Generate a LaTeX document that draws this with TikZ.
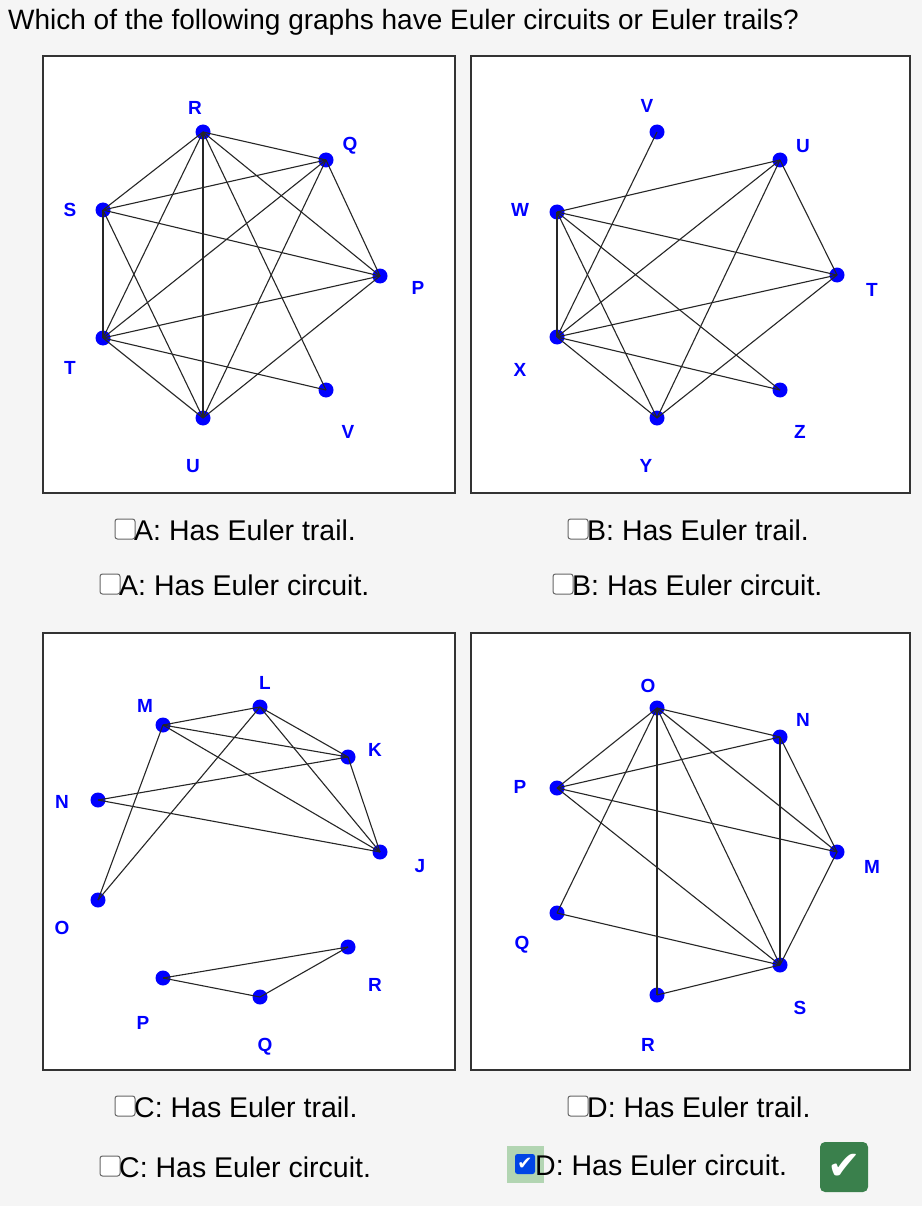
\documentclass[tikz,border=0pt]{standalone}
\usepackage{fontspec}
\setmainfont{Liberation Sans}
\newfontfamily\symf{DejaVu Sans}
\begin{document}
\begin{tikzpicture}[x=1pt,y=-1pt,
  v/.style={circle,fill=blue,inner sep=0pt,minimum size=15pt},
  lb/.style={text=blue,font=\bfseries\fontsize{19}{19}\selectfont},
  e/.style={draw=black!85,line width=1.1pt},
  panel/.style={draw=black!80,fill=white,line width=1.2pt},
  opt/.style={anchor=west,font=\fontsize{28.5}{28.5}\selectfont,inner sep=0pt},
  cb/.style={draw=black!60,fill=white,rounded corners=2.5pt,line width=1pt,minimum size=20pt,inner sep=0pt}]
\fill[black!4] (0,0) rectangle (922,1206);
\useasboundingbox (0,0) rectangle (922,1206);
\node[anchor=west,font=\fontsize{28}{28}\selectfont,inner sep=0pt] (title) at (8,22) {Which of the following graphs have Euler circuits or Euler trails?};
\draw[panel] (43,56) rectangle (455,493);
\draw[panel] (471,56) rectangle (910,493);
\draw[panel] (43,633) rectangle (455,1070);
\draw[panel] (471,633) rectangle (910,1070);
% Graph A
\foreach \n/\x/\y/\lx/\ly in {R/203/132/195/108,Q/326/160/350/146,S/103/210/70/210,P/380/276/418/288,T/103/338/70/368,V/326/390/348/432,U/203/418/193/466}{
  \node[v] (a\n) at (\x,\y) {}; \node[lb] (al\n) at (\lx,\ly) {\n};}
\foreach \a/\b in {R/Q,R/S,R/T,R/U,R/P,R/V,Q/S,Q/T,Q/U,Q/P,S/T,S/P,S/U,T/P,T/V,T/U,U/P}
  \draw[e] (a\a.center) -- (a\b.center);
% Graph B
\foreach \n/\x/\y/\lx/\ly in {V/657/132/647/106,U/780/160/803/146,W/557/212/520/210,T/837/275/872/290,X/557/337/520/370,Z/780/390/800/432,Y/657/418/646/466}{
  \node[v] (b\n) at (\x,\y) {}; \node[lb] (bl\n) at (\lx,\ly) {\n};}
\foreach \a/\b in {V/X,W/U,W/T,W/X,W/Y,W/Z,X/U,X/T,X/Z,X/Y,U/T,U/Y,T/Y}
  \draw[e] (b\a.center) -- (b\b.center);
% Graph C
\foreach \n/\x/\y/\lx/\ly in {L/260/707/265/683,M/163/725/145/706,K/348/757/375/750,N/98/800/62/802,J/380/852/420/866,O/98/900/62/928,R/348/947/375/985,P/163/978/143/1023,Q/260/997/265/1047}{
  \node[v] (c\n) at (\x,\y) {}; \node[lb] (cl\n) at (\lx,\ly) {\n};}
\foreach \a/\b in {M/L,M/K,M/J,M/O,L/K,L/J,L/O,K/N,K/J,N/J,P/R,P/Q,Q/R}
  \draw[e] (c\a.center) -- (c\b.center);
% Graph D
\foreach \n/\x/\y/\lx/\ly in {O/657/708/648/686,N/780/737/803/720,P/557/788/520/787,M/837/852/872/867,Q/557/913/522/945,S/780/965/800/1008,R/657/995/648/1045}{
  \node[v] (d\n) at (\x,\y) {}; \node[lb] (dl\n) at (\lx,\ly) {\n};}
\foreach \a/\b in {O/N,O/P,O/Q,O/R,O/S,O/M,N/P,N/S,N/M,P/M,P/S,M/S,Q/S,R/S}
  \draw[e] (d\a.center) -- (d\b.center);
% options
\foreach \id/\x/\y/\t in {a1/117/529/A: Has Euler trail.,a2/102/584/A: Has Euler circuit.,b1/570/529/B: Has Euler trail.,b2/555/584/B: Has Euler circuit.,c1/117/1106/C: Has Euler trail.,c2/102/1166/C: Has Euler circuit.,d1/570/1106/D: Has Euler trail.}{
  \node[cb] (k\id) at (\x+8,\y) {};
  \node[opt] (t\id) at (\x+17,\y+1) {\t};}
\node[fill=green!45!black!30,minimum size=37pt,inner sep=0pt] (hl) at (525,1164) {};
\node[fill=blue!70!cyan!90!black,rounded corners=2.5pt,minimum size=20pt,inner sep=0pt,text=white,font=\symf\bfseries\fontsize{18}{18}\selectfont] (kd2) at (525,1164) {✔};
\node[opt] (td2) at (535,1165) {D: Has Euler circuit.};
\node[fill={rgb,255:red,58;green,128;blue,76},rounded corners=5pt,minimum width=48pt,minimum height=50pt,inner sep=0pt,text=white,font=\symf\bfseries\fontsize{40}{40}\selectfont] (ok) at (844,1167) {✔};
\end{tikzpicture}
\end{document}
